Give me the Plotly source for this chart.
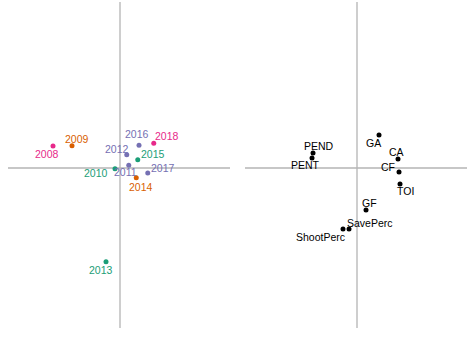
import plotly.graph_objects as go

# Season scores (individuals map)
seasons = ["2008", "2009", "2010", "2011", "2012", "2013", "2014", "2015", "2016", "2017", "2018"]
season_dim1 = [-2.68, -1.92, -0.20, 0.35, 0.27, -0.56, 0.65, 0.71, 0.76, 1.11, 1.35]
season_dim2 = [0.88, 0.89, -0.03, 0.11, 0.53, -3.75, -0.39, 0.33, 0.91, -0.20, 0.99]
season_group = ["A", "B", "C", "D", "D", "C", "B", "C", "D", "D", "A"]

# Variable coordinates (variables map)
variables = ["GA", "PEND", "PENT", "CA", "CF", "TOI", "GF", "SavePerc", "ShootPerc"]
var_dim1 = [0.22, -0.44, -0.45, 0.41, 0.42, 0.43, 0.09, -0.08, -0.14]
var_dim2 = [0.33, 0.15, 0.10, 0.09, -0.04, -0.16, -0.42, -0.61, -0.61]

group_colors = {"A": "#E7298A", "B": "#D95F02", "C": "#1B9E77", "D": "#7570B3"}

# label offsets in pixels (dx right, dy up)
season_label_offsets = {
    "2008": (-6, -8), "2009": (5, 7), "2010": (-19, -4), "2011": (-3, -7),
    "2012": (-10, 6), "2013": (-5, -8), "2014": (5, -9), "2015": (15, 6),
    "2016": (-2, 11), "2017": (15, 5), "2018": (13, 7),
}
var_label_offsets = {
    "GA": (-6, -8), "PEND": (6, 7), "PENT": (-7, -7), "CA": (-2, 7),
    "CF": (-11, 5), "TOI": (5, -7), "GF": (3, 7), "SavePerc": (21, 6),
    "ShootPerc": (-23, -8),
}

FONT = "Liberation Sans, Arial, sans-serif"
LINE = dict(color="#B4B4B4", width=1.3)

fig = go.Figure()

fig.add_trace(go.Scatter(
    x=season_dim1, y=season_dim2, mode="markers",
    marker=dict(size=5, color=[group_colors[g] for g in season_group]),
    xaxis="x", yaxis="y", hoverinfo="text", text=seasons, showlegend=False,
))
fig.add_trace(go.Scatter(
    x=var_dim1, y=var_dim2, mode="markers",
    marker=dict(size=5, color="black"),
    xaxis="x2", yaxis="y2", hoverinfo="text", text=variables, showlegend=False,
))

annotations = []
for name, x, y, g in zip(seasons, season_dim1, season_dim2, season_group):
    dx, dy = season_label_offsets[name]
    annotations.append(dict(
        x=x, y=y, xref="x", yref="y", text=name, showarrow=False,
        xshift=dx, yshift=dy, font=dict(family=FONT, size=10.5, color=group_colors[g]),
    ))
for name, x, y in zip(variables, var_dim1, var_dim2):
    dx, dy = var_label_offsets[name]
    annotations.append(dict(
        x=x, y=y, xref="x2", yref="y2", text=name, showarrow=False,
        xshift=dx, yshift=dy, font=dict(family=FONT, size=10.5, color="black"),
    ))

shapes = []
for xa, ya in (("x", "y"), ("x2", "y2")):
    shapes.append(dict(type="line", xref=xa, yref=ya + " domain", x0=0, x1=0, y0=0, y1=1,
                       line=LINE, layer="below"))
    shapes.append(dict(type="line", xref=xa + " domain", yref=ya, x0=0, x1=1, y0=0, y1=0,
                       line=LINE, layer="below"))

W, H = 474, 338
axis_common = dict(visible=False, showgrid=False, zeroline=False, fixedrange=True)
fig.update_layout(
    width=W, height=H,
    margin=dict(l=0, r=0, t=0, b=0),
    paper_bgcolor="white", plot_bgcolor="white",
    xaxis=dict(domain=[8 / W, 230 / W], range=[-4.48, 4.40], **axis_common),
    yaxis=dict(domain=[10 / H, 336 / H], range=[-6.40, 6.64], **axis_common),
    xaxis2=dict(domain=[245 / W, 467 / W], range=[-1.12, 1.10], **axis_common),
    yaxis2=dict(domain=[10 / H, 336 / H], range=[-1.60, 1.66], anchor="x2", **axis_common),
    annotations=annotations,
    shapes=shapes,
    showlegend=False,
)

fig.write_html("out.html")
